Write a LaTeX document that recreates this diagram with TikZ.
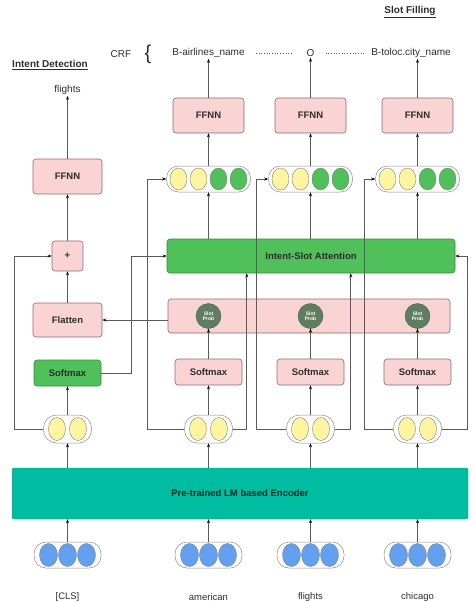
\documentclass[tikz,border=0pt]{standalone}
\usepackage{fontspec}
\setmainfont{Liberation Sans}
\usetikzlibrary{arrows.meta,shapes.geometric,calc}
\definecolor{pinkf}{RGB}{250,212,212}
\definecolor{pinkd}{RGB}{140,105,105}
\definecolor{grnf}{RGB}{80,192,90}
\definecolor{grnd}{RGB}{50,140,60}
\definecolor{tealf}{RGB}{0,188,160}
\definecolor{teald}{RGB}{0,160,135}
\definecolor{yelf}{RGB}{255,245,160}
\definecolor{bluef}{RGB}{100,160,240}
\definecolor{spf}{RGB}{95,125,95}
\definecolor{linec}{RGB}{90,90,90}
\definecolor{txt}{RGB}{45,45,45}
\begin{document}
\begin{tikzpicture}[x=1pt,y=-1pt,
  boxlab/.style={font=\fontsize{9.5}{11}\selectfont\bfseries, text=txt},
  pinkbox/.style={draw=pinkd, fill=pinkf, rounded corners=3pt, line width=0.6pt, inner sep=0pt, boxlab},
  greenbox/.style={draw=grnd, fill=grnf, rounded corners=3pt, line width=0.6pt, inner sep=0pt, boxlab},
  capsule/.style={draw=black!45, fill=white, rounded corners=12pt, line width=0.5pt, inner sep=0pt},
  ell/.style={ellipse, draw=black!50, line width=0.4pt, inner sep=0pt},
  yel/.style={ell, fill=yelf, minimum width=17pt, minimum height=23pt},
  grn/.style={ell, fill=grnf, minimum width=17pt, minimum height=22pt},
  blu/.style={ell, fill=bluef, minimum width=18pt, minimum height=23pt},
  sprob/.style={circle, fill=spf, draw=spf!80!black, minimum size=25pt, inner sep=0pt, align=center, text=white, font=\fontsize{5}{5.5}\selectfont\bfseries},
  lab/.style={font=\fontsize{10}{12}\selectfont, text=txt, inner sep=1pt},
  arr/.style={draw=linec, line width=0.75pt, -{Stealth[length=4pt,width=3pt,color=black]}},
  dots/.style={draw=linec, line width=0.7pt, dotted}
]
\useasboundingbox (0,0) rectangle (474,602);

% titles
\node[font=\fontsize{10}{12}\selectfont\bfseries, text=txt] (tid) at (50,65) {\underline{Intent Detection}};
\node[font=\fontsize{10}{12}\selectfont\bfseries, text=txt] (tsf) at (410,12) {\underline{Slot Filling}};

% CRF labels
\node[lab] (crf) at (121,54) {CRF};
\node[lab, font=\fontsize{20}{20}\selectfont] (brace) at (148,54) {\{};
\node[lab] (l1) at (208.5,53) {B-airlines\_name};
\node[lab] (l2) at (310.5,53) {O};
\node[lab] (l3) at (411,53) {B-toloc.city\_name};
\draw[dots, shorten <=10pt, shorten >=12pt] (l1.east) -- (l2.west);
\draw[dots, shorten <=10pt, shorten >=6pt] (l2.east) -- (l3.west);
\node[lab] (lflights) at (67.5,90) {flights};

% encoder
\node[draw=teald, fill=tealf, rounded corners=2pt, minimum width=456pt, minimum height=51pt, inner sep=0pt] (enc) at (240,493.5) {};
\node[boxlab, text=black!80!tealf] (enct) at (240,493) {Pre-trained LM based Encoder};

% tokens
\foreach \n/\x/\w in {0/67.5/[CLS],1/208.5/american,2/310.5/flights,3/417.5/chicago}{
  \node[capsule, minimum width=67pt, minimum height=26pt] (b\n) at (\x,555) {};
  \foreach \k/\d in {a/-19,b/0,c/19}
    \node[blu] (b\n\k) at (\x+\d,555) {};
  \node[lab, font=\fontsize{9.5}{11}\selectfont] (t\n) at (\x,597) {\w};
}
% yellow pairs
\foreach \n/\x in {0/67.5,1/208.5,2/310.5,3/417.5}{
  \node[capsule, minimum width=48pt, minimum height=28pt, rounded corners=13pt] (y\n) at (\x,429) {};
  \node[yel] (y\n a) at (\x-10.5,429) {};
  \node[yel] (y\n b) at (\x+10.5,429) {};
}
% softmax
\node[greenbox, minimum width=67pt, minimum height=26pt] (sm0) at (67.5,373) {Softmax};
\foreach \n/\x in {1/208.5,2/310.5,3/417.5}
  \node[pinkbox, minimum width=67pt, minimum height=26pt] (sm\n) at (\x,372) {Softmax};

% slot prob box
\node[pinkbox, minimum width=282pt, minimum height=34pt] (slotbox) at (309,316) {};
\foreach \n/\x in {1/208.5,2/310.5,3/417.5}
  \node[sprob] (sp\n) at (\x,316) {Slot\\Prob};

% flatten, plus, ffnn0
\node[pinkbox, minimum width=69pt, minimum height=34pt] (flat) at (67.5,320) {Flatten};
\node[pinkbox, minimum width=31pt, minimum height=30pt] (plus) at (67.5,256) {+};
\node[pinkbox, minimum width=69pt, minimum height=35pt] (f0) at (67.5,176.5) {FFNN};

% attention
\node[greenbox, minimum width=288pt, minimum height=34pt] (att) at (311,256) {Intent-Slot Attention};

% rows of four
\foreach \n/\x in {1/208.5,2/310.5,3/417.5}{
  \node[capsule, minimum width=84pt, minimum height=26pt] (r\n) at (\x,179) {};
  \node[yel, minimum height=22pt] (r\n a) at (\x-30,179) {};
  \node[yel, minimum height=22pt] (r\n b) at (\x-10,179) {};
  \node[grn] (r\n c) at (\x+10,179) {};
  \node[grn] (r\n d) at (\x+30,179) {};
}
% ffnn slot
\foreach \n/\x in {1/208.5,2/310.5,3/417.5}
  \node[pinkbox, minimum width=71pt, minimum height=35pt] (f\n) at (\x,115.5) {FFNN};

% ---- connectors ----
\foreach \n in {0,1,2,3}{
  \draw[arr] (b\n.north) -- (b\n.north |- enc.south);
  \draw[arr] (enc.north -| y\n.south) -- (y\n.south);
  \draw[arr] (y\n.north) -- (sm\n.south);
}
% intent side
\draw[arr] (sm0.east) -- ++(30,0) |- (att.west);
\draw[arr] (y0.west) -- ++(-29,0) |- (plus.west);
\draw[arr] (flat.north) -- (plus.south);
\draw[arr] (plus.north) -- (f0.south);
\draw[arr] (f0.north) -- (f0.north |- lflights.south);
\draw[arr] (slotbox.west |- flat.east) -- (flat.east);

% slot side
\foreach \n in {1,2,3}{
  \draw[arr] (sm\n.north) -- (sp\n.south);
  \draw[arr] (att.north -| r\n.south) -- (r\n.south);
  \draw[arr] (r\n.north) -- (f\n.south);
  \draw[arr] (f\n.north) -- (f\n.north |- l\n.south);
}
\draw[arr] (y1.west) -- ++(-37,0) |- (r1.west);
\draw[arr] (y2.west) -- ++(-30,0) |- (r2.west);
\draw[arr] (y3.west) -- ++(-29,0) |- (r3.west);
\draw[arr] (y1.east) -- ++(14,0) coordinate (k1) -- (k1 |- att.south);
\draw[arr] (y2.east) -- ++(16,0) coordinate (k2) -- (k2 |- att.south);
\draw[arr] (y3.east) -- ++(26,0) |- (att.east);
\end{tikzpicture}
\end{document}
